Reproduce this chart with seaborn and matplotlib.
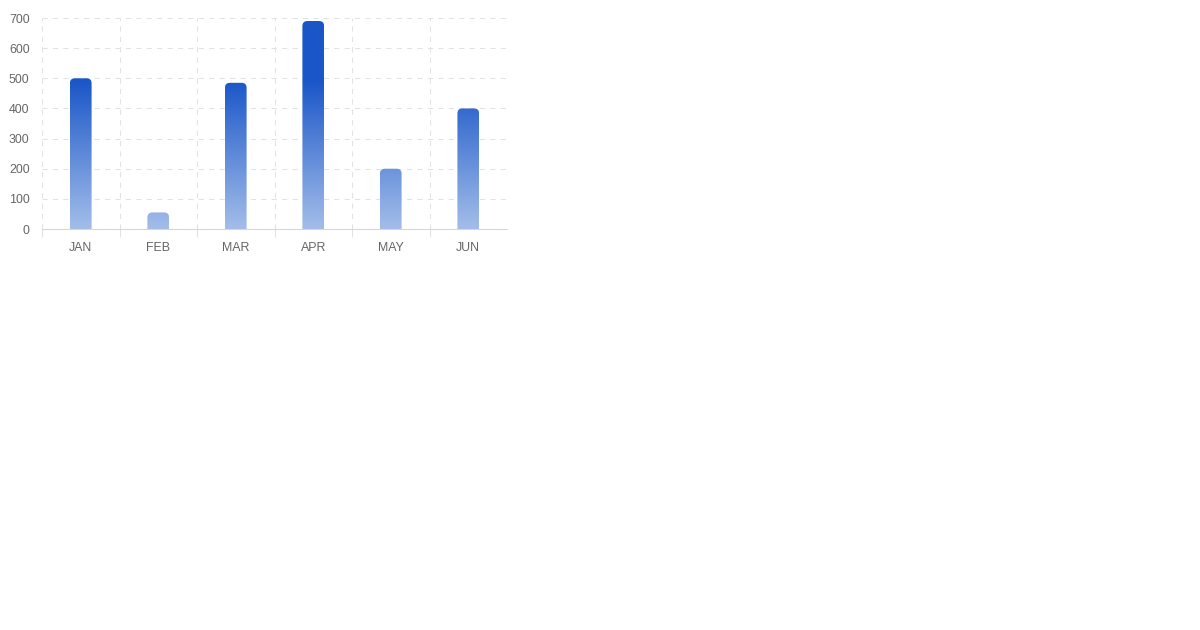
import numpy as np
import pandas as pd
import matplotlib
matplotlib.use('Agg')
import matplotlib.pyplot as plt
import seaborn as sns
from matplotlib.colors import LinearSegmentedColormap
from matplotlib.patches import FancyBboxPatch

# data
months = ['JAN', 'FEB', 'MAR', 'APR', 'MAY', 'JUN']
sales = [500, 55, 485, 690, 200, 400]
y_ticks = [0, 100, 200, 300, 400, 500, 600, 700]

sns.set_theme(style='white')
plt.rcParams['font.family'] = ['Liberation Sans', 'DejaVu Sans']

grid_col = '#e2e2e2'
text_col = '#666666'
dark_blue = '#1a56c8'
light_blue = '#a3bdea'

fig = plt.figure(figsize=(12, 6.3), dpi=100)
ax = fig.add_axes([42 / 1200, 1 - 229 / 630, 465 / 1200, 211 / 630])

df = pd.DataFrame({'month': months, 'sales': sales})
sns.barplot(data=df, x='month', y='sales', width=0.28, color=dark_blue, ax=ax)

ax.set_xlim(-0.5, 5.5)
ax.set_ylim(0, 700)

# corner radius in data units (about 5 px)
px_x = ax.transData.transform((1, 0))[0] - ax.transData.transform((0, 0))[0]
px_y = ax.transData.transform((0, 1))[1] - ax.transData.transform((0, 0))[1]
rx = 5 / px_x
ry = 5 / px_y

# vertical gradient, light at 0 going to solid dark around 495
cmap = LinearSegmentedColormap.from_list('blues_grad', [light_blue, dark_blue])
yy = np.linspace(0, 700, 400)
grad = np.clip(yy / 495, 0, 1).reshape(-1, 1)

for p in list(ax.patches):
    x0, w, h = p.get_x(), p.get_width(), p.get_height()
    p.set_visible(False)
    shape = FancyBboxPatch((x0, -ry * 2), w, h + ry * 2,
                           boxstyle=f'round,pad=0,rounding_size={rx}',
                           mutation_aspect=ry / rx,
                           facecolor='none', edgecolor='none',
                           transform=ax.transData)
    ax.add_patch(shape)
    im = ax.imshow(grad, extent=(x0, x0 + w, 0, 700), origin='lower',
                   aspect='auto', cmap=cmap, vmin=0, vmax=1,
                   interpolation='bilinear', zorder=2)
    im.set_clip_path(shape)

ax.set_xlim(-0.5, 5.5)
ax.set_ylim(0, 700)

ax.set_yticks(y_ticks)
ax.set_xticks(range(len(months)))
ax.set_xticklabels(months)
ax.set_xticks(np.arange(-0.5, 5, 1), minor=True)

ax.grid(axis='y', which='major', linestyle=(0, (5, 5)), color=grid_col, lw=0.75)
ax.grid(axis='x', which='minor', linestyle=(0, (5, 5)), color=grid_col, lw=0.75)
ax.set_axisbelow(True)

ax.tick_params(axis='y', which='major', length=6, width=0.75, color=grid_col,
               labelsize=8.9, labelcolor=text_col, pad=3)
ax.tick_params(axis='x', which='major', length=0, labelsize=8.9,
               labelcolor=text_col, pad=9.5)
ax.tick_params(axis='x', which='minor', length=6, width=0.75, color=grid_col,
               bottom=True)

for s in ['top', 'right', 'left']:
    ax.spines[s].set_visible(False)
ax.spines['bottom'].set_color('#d6d6d6')
ax.spines['bottom'].set_linewidth(0.75)

ax.set_xlabel('')
ax.set_ylabel('')

fig.savefig('out.png', dpi=100)
